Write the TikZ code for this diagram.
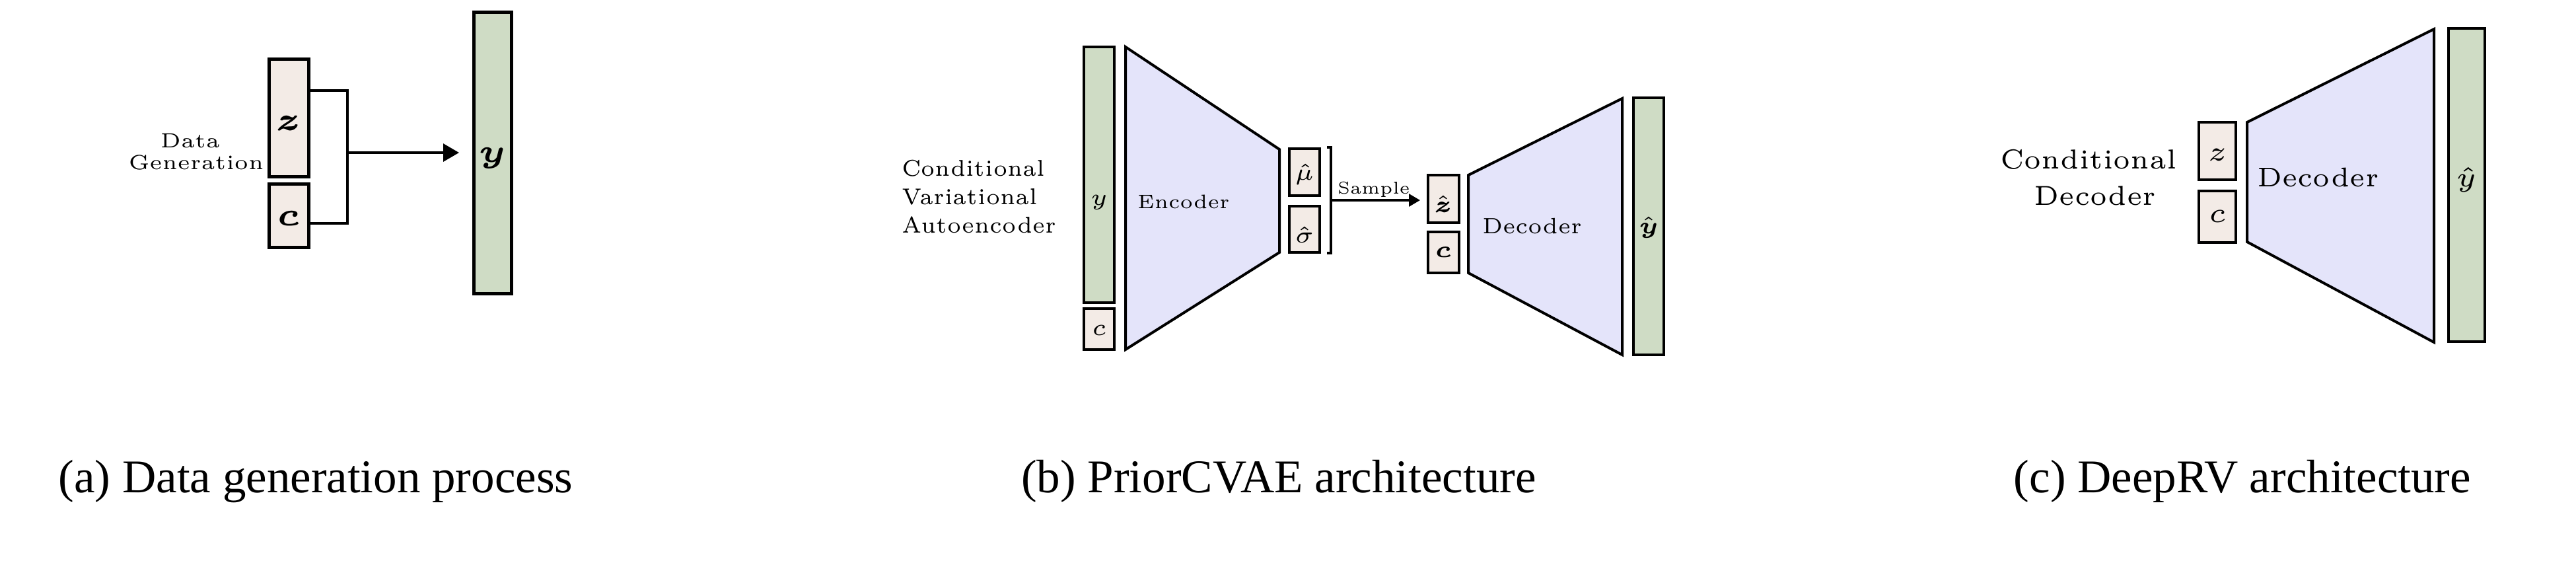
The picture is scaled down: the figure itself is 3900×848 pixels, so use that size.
\RequirePackage{fix-cm}
\documentclass[tikz,border=0pt]{standalone}
\usepackage{amsmath}
\usepackage{graphicx}
\usepackage{fontspec}
\newfontfamily\capfont{Liberation Serif}
\usetikzlibrary{arrows.meta,fit}
\definecolor{beigec}{RGB}{243,235,230}
\definecolor{greenc}{RGB}{207,220,197}
\definecolor{lavc}{RGB}{228,228,250}
\tikzset{
  bx/.style={draw, line width=0.42pt, inner sep=0pt, outer sep=0pt},
  beigebox/.style={bx, fill=beigec},
  greenbox/.style={bx, fill=greenc},
  trap/.style={draw, line width=0.4pt, fill=lavc, line join=miter},
  conn/.style={draw, line width=0.32pt},
  lab/.style={inner sep=0pt, anchor=base},
  labw/.style={inner sep=0pt, anchor=base west},
  sym/.style={inner sep=0pt, anchor=center},
  captext/.style={inner sep=0pt, anchor=base, font=\capfont\fontsize{7.1}{8.5}\selectfont}
}
\begin{document}
\begin{tikzpicture}[x=0.1pt, y=-0.1pt]
\useasboundingbox (0,0) rectangle (3900,848);

% ---------------- Panel (a)
\node[beigebox, line width=0.5pt, fit={(407,89) (467,267)}] (za) {};
\node[beigebox, line width=0.5pt, fit={(407,278) (467,374)}] (ca) {};
\node[greenbox, line width=0.5pt, fit={(717,18) (774,444)}] (ya) {};
\node[sym, font=\fontsize{4.9}{5}\selectfont] (zat) at (437,187) {$\boldsymbol{z}$};
\node[sym, font=\fontsize{4.9}{5}\selectfont] (cat) at (437,331) {$\boldsymbol{c}$};
\node[sym, font=\fontsize{4.9}{5}\selectfont] (yat) at (745,239) {$\boldsymbol{y}$};
\node[lab, font=\fontsize{3.1}{3.3}\selectfont] (dg1) at (288,223) {Data};
\node[lab, font=\fontsize{3.1}{3.3}\selectfont] (dg2) at (297,256) {Generation};
\coordinate (ba1) at (526,137);
\coordinate (ba2) at (526,338);
\coordinate (bam) at (526,231);
\draw[conn] (za.east |- ba1) -- (ba1) -- (ba2) -- (ca.east |- ba2);
\draw[conn, -{Triangle[length=2.4pt, width=2.7pt]}, shorten >=2.2pt] (bam) -- (bam -| ya.west);

% ---------------- Panel (b)
\node[greenbox, fit={(1641,71) (1687,458)}] (yb) {};
\node[beigebox, fit={(1641,467) (1687,529)}] (cb) {};
\coordinate (e1) at (1704,71);
\coordinate (e2) at (1937,226);
\coordinate (e3) at (1937,382);
\coordinate (e4) at (1704,529);
\draw[trap] (e1) -- (e2) -- (e3) -- (e4) -- cycle;
\node[labw, font=\fontsize{2.95}{3.3}\selectfont] (enc) at (1720,315) {\scalebox{0.97}[1]{Encoder}};
\node[beigebox, fit={(1952,225) (1998,296)}] (mub) {};
\node[beigebox, fit={(1952,312) (1998,382)}] (sigb) {};
\node[sym, font=\fontsize{3.5}{4}\selectfont] (ybt) at (1664,306) {$y$};
\node[sym, font=\fontsize{3.5}{4}\selectfont] (cbt) at (1664,500) {$c$};
\node[sym, font=\fontsize{3.5}{4}\selectfont] (mubt) at (1975,264) {$\hat{\mu}$};
\node[sym, font=\fontsize{3.5}{4}\selectfont] (sigbt) at (1975,355) {$\hat{\sigma}$};
\node[labw, font=\fontsize{3.45}{3.8}\selectfont] (cv1) at (1363,266) {\scalebox{0.9}[1]{Conditional}};
\node[labw, font=\fontsize{3.45}{3.8}\selectfont] (cv2) at (1363,309) {\scalebox{0.9}[1]{Variational}};
\node[labw, font=\fontsize{3.45}{3.8}\selectfont] (cv3) at (1363,352) {\scalebox{0.9}[1]{Autoencoder}};
\coordinate (bt1) at (2009,223);
\coordinate (bt2) at (2015,223);
\coordinate (bt3) at (2015,383);
\coordinate (bt4) at (2009,383);
\coordinate (bm) at (2015,303);
\draw[conn] (bt1) -- (bt2) -- (bt3) -- (bt4);
\node[beigebox, fit={(2162,265) (2209,337)}] (zhb) {};
\node[beigebox, fit={(2162,351) (2209,413)}] (cdb) {};
\draw[conn, -{Triangle[length=1.7pt, width=1.9pt]}, shorten >=1.2pt] (bm) -- (bm -| zhb.west);
\node[labw, font=\fontsize{2.6}{3}\selectfont] (smp) at (2023,293) {\scalebox{0.98}[1]{Sample}};
\node[sym, font=\fontsize{3.5}{4}\selectfont] (zhbt) at (2185,309) {$\hat{\boldsymbol{z}}$};
\node[sym, font=\fontsize{3.5}{4}\selectfont] (cdbt) at (2185,382) {$\boldsymbol{c}$};
\coordinate (d1) at (2223,265);
\coordinate (d2) at (2456,149);
\coordinate (d3) at (2456,537);
\coordinate (d4) at (2223,413);
\draw[trap] (d1) -- (d2) -- (d3) -- (d4) -- cycle;
\node[labw, font=\fontsize{3.35}{3.7}\selectfont] (decb) at (2242,353) {\scalebox{0.93}[1]{Decoder}};
\node[greenbox, fit={(2473,148) (2519,537)}] (yhb) {};
\node[sym, font=\fontsize{3.5}{4}\selectfont] (yhbt) at (2496,344) {$\hat{\boldsymbol{y}}$};

% ---------------- Panel (c)
\node[lab, font=\fontsize{4.15}{4.5}\selectfont] (cd1) at (3162,255) {\scalebox{0.92}[1]{Conditional}};
\node[lab, font=\fontsize{4.15}{4.5}\selectfont] (cd2) at (3172,310) {\scalebox{0.92}[1]{Decoder}};
\node[beigebox, fit={(3329,185) (3385,272)}] (zc) {};
\node[beigebox, fit={(3329,289) (3385,367)}] (cc) {};
\node[sym, font=\fontsize{4.2}{5}\selectfont] (zct) at (3357,234) {$z$};
\node[sym, font=\fontsize{4.2}{5}\selectfont] (cct) at (3357,327) {$c$};
\coordinate (f1) at (3402,185);
\coordinate (f2) at (3685,44);
\coordinate (f3) at (3685,518);
\coordinate (f4) at (3402,366);
\draw[trap] (f1) -- (f2) -- (f3) -- (f4) -- cycle;
\node[labw, font=\fontsize{4.1}{4.5}\selectfont] (decc) at (3415,282) {\scalebox{0.93}[1]{Decoder}};
\node[greenbox, fit={(3707,43) (3762,517)}] (yhc) {};
\node[sym, font=\fontsize{4.2}{5}\selectfont] (yhct) at (3734,272) {$\hat{y}$};

% ---------------- Captions
\node[captext] (capa) at (478,745) {(a) Data generation process};
\node[captext] (capb) at (1936,745) {(b) PriorCVAE architecture};
\node[captext] (capc) at (3395,745) {(c) DeepRV architecture};
\end{tikzpicture}
\end{document}
